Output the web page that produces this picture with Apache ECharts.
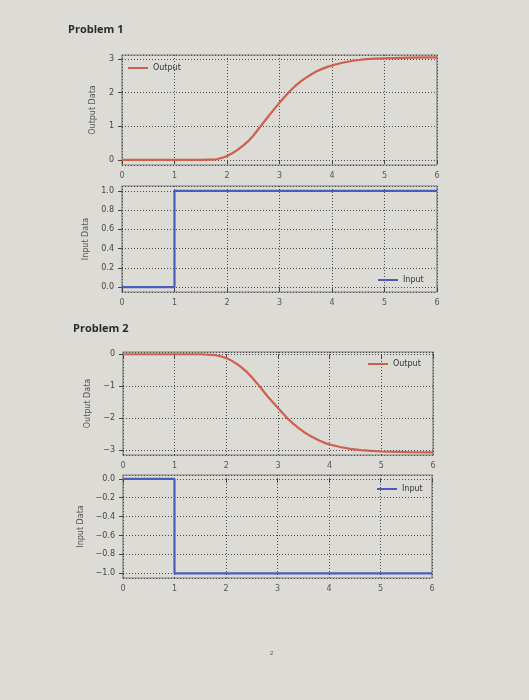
<!DOCTYPE html>
<html>
<head>
<meta charset="utf-8">
<script src="https://cdn.jsdelivr.net/npm/echarts@6/dist/echarts.min.js"></script>
<style>
  html, body { margin: 0; padding: 0; background: #dcdbd6; }
  #main { width: 529px; height: 700px; }
</style>
</head>
<body>
<div id="main"></div>
<script>
// values
const timeOut = [0, 0.5, 1, 1.5, 1.8, 1.9, 2, 2.1, 2.2, 2.3, 2.4, 2.5, 2.6, 2.7, 2.8, 2.9, 3, 3.1, 3.2, 3.3, 3.4, 3.5, 3.6, 3.7, 3.8, 3.9, 4, 4.2, 4.4, 4.6, 4.8, 5, 5.5, 6];
const output1 = [0, 0, 0, 0, 0.02, 0.06, 0.12, 0.2, 0.3, 0.42, 0.55, 0.72, 0.92, 1.12, 1.32, 1.51, 1.7, 1.88, 2.05, 2.2, 2.33, 2.44, 2.54, 2.63, 2.7, 2.76, 2.81, 2.89, 2.95, 2.99, 3.01, 3.02, 3.04, 3.05];
const output2 = [0, 0, 0, 0, -0.03, -0.07, -0.12, -0.2, -0.3, -0.42, -0.56, -0.73, -0.92, -1.12, -1.32, -1.5, -1.68, -1.86, -2.03, -2.18, -2.31, -2.43, -2.53, -2.62, -2.7, -2.77, -2.82, -2.9, -2.96, -3.0, -3.02, -3.04, -3.06, -3.07];
const timeIn = [0, 1, 1, 6];
const input1 = [0, 0, 1, 1];
const input2 = [0, 0, -1, -1];
const xTicks = [0, 1, 2, 3, 4, 5, 6];

const red = '#cf5f4f';
const blue = '#4a5cc0';
const tickColor = '#444';
const frame = '#7e7e7a';

const pairs = (xs, ys) => xs.map((x, i) => [x, ys[i]]);

const grids = [
  { left: 122, top: 55, width: 315, height: 110 },
  { left: 122, top: 186, width: 315, height: 106 },
  { left: 123, top: 352, width: 310, height: 103 },
  { left: 123, top: 475, width: 309, height: 103 }
].map(g => Object.assign(g, { show: true, borderColor: frame, borderWidth: 1.2, backgroundColor: 'transparent' }));

const gridLine = { show: true, lineStyle: { color: '#4a4a4a', type: [1, 2], width: 1 } };

function xAxis(i) {
  return {
    type: 'value', gridIndex: i, min: xTicks[0], max: xTicks[xTicks.length - 1], interval: 1,
    axisLine: { show: false },
    axisTick: { show: true, inside: false, length: 4, lineStyle: { color: tickColor } },
    axisLabel: { color: '#555', fontSize: 8, margin: 7, fontFamily: 'DejaVu Sans' },
    splitLine: gridLine
  };
}

function yAxis(i, name, min, max, step, digits) {
  return {
    type: 'value', gridIndex: i, min: min, max: max, minInterval: step, maxInterval: step,
    name: name, nameLocation: 'middle', nameGap: 25,
    nameTextStyle: { color: '#555', fontSize: 8, fontFamily: 'DejaVu Sans' },
    axisLine: { show: false },
    axisTick: { show: true, inside: false, length: 4, lineStyle: { color: tickColor } },
    axisLabel: {
      color: '#444', fontSize: 8, margin: 8, fontFamily: 'DejaVu Sans',
      showMinLabel: false, showMaxLabel: false,
      formatter: v => {
        const s = Math.abs(v) < 1e-9 ? (0).toFixed(digits) : v.toFixed(digits);
        return s.replace('-', '\u2212');
      }
    },
    splitLine: gridLine
  };
}

function lineSeries(name, i, data, color) {
  return {
    name: name, type: 'line', xAxisIndex: i, yAxisIndex: i,
    data: data, showSymbol: false, smooth: false,
    lineStyle: { color: color, width: 2.2 },
    itemStyle: { color: color },
    emphasis: { disabled: true }, animation: false
  };
}

function legend(name, left, top) {
  return {
    data: [name], left: left, top: top, icon: 'rect', itemWidth: 20, itemHeight: 2, itemGap: 4,
    padding: 0,
    textStyle: { color: '#333', fontSize: 8, fontFamily: 'DejaVu Sans' },
    selectedMode: false
  };
}

const option = {
  backgroundColor: '#dcdbd6',
  animation: false,
  title: [
    { text: 'Problem 1', left: 68, top: 24, padding: 0, textStyle: { fontSize: 11, fontWeight: 'bold', color: '#2a2a2a', fontFamily: 'Open Sans' } },
    { text: 'Problem 2', left: 73, top: 323, padding: 0, textStyle: { fontSize: 11, fontWeight: 'bold', color: '#2a2a2a', fontFamily: 'Open Sans' } },
    { text: '2', left: 270, top: 650, padding: 0, textStyle: { fontSize: 6, fontWeight: 'normal', color: '#555' } }
  ],
  grid: grids,
  xAxis: [xAxis(0), xAxis(1), xAxis(2), xAxis(3)],
  yAxis: [
    yAxis(0, 'Output Data', -0.15, 3.12, 1, 0),
    yAxis(1, 'Input Data', -0.05, 1.05, 0.2, 1),
    yAxis(2, 'Output Data', -3.15, 0.07, 1, 0),
    yAxis(3, 'Input Data', -1.05, 0.04, 0.2, 1)
  ],
  legend: [
    legend('Output', 128, 64),
    legend('Input', 378, 276),
    legend('Output2', 368, 360),
    legend('Input2', 377, 485)
  ],
  series: [
    lineSeries('Output', 0, pairs(timeOut, output1), red),
    lineSeries('Input', 1, pairs(timeIn, input1), blue),
    lineSeries('Output2', 2, pairs(timeOut, output2), red),
    lineSeries('Input2', 3, pairs(timeIn, input2), blue)
  ]
};

// legends 3 and 4 show the same label text as 1 and 2
option.legend[2].formatter = () => 'Output';
option.legend[3].formatter = () => 'Input';

const myChart = echarts.init(document.getElementById('main'));
myChart.setOption(option);
</script>
</body>
</html>
